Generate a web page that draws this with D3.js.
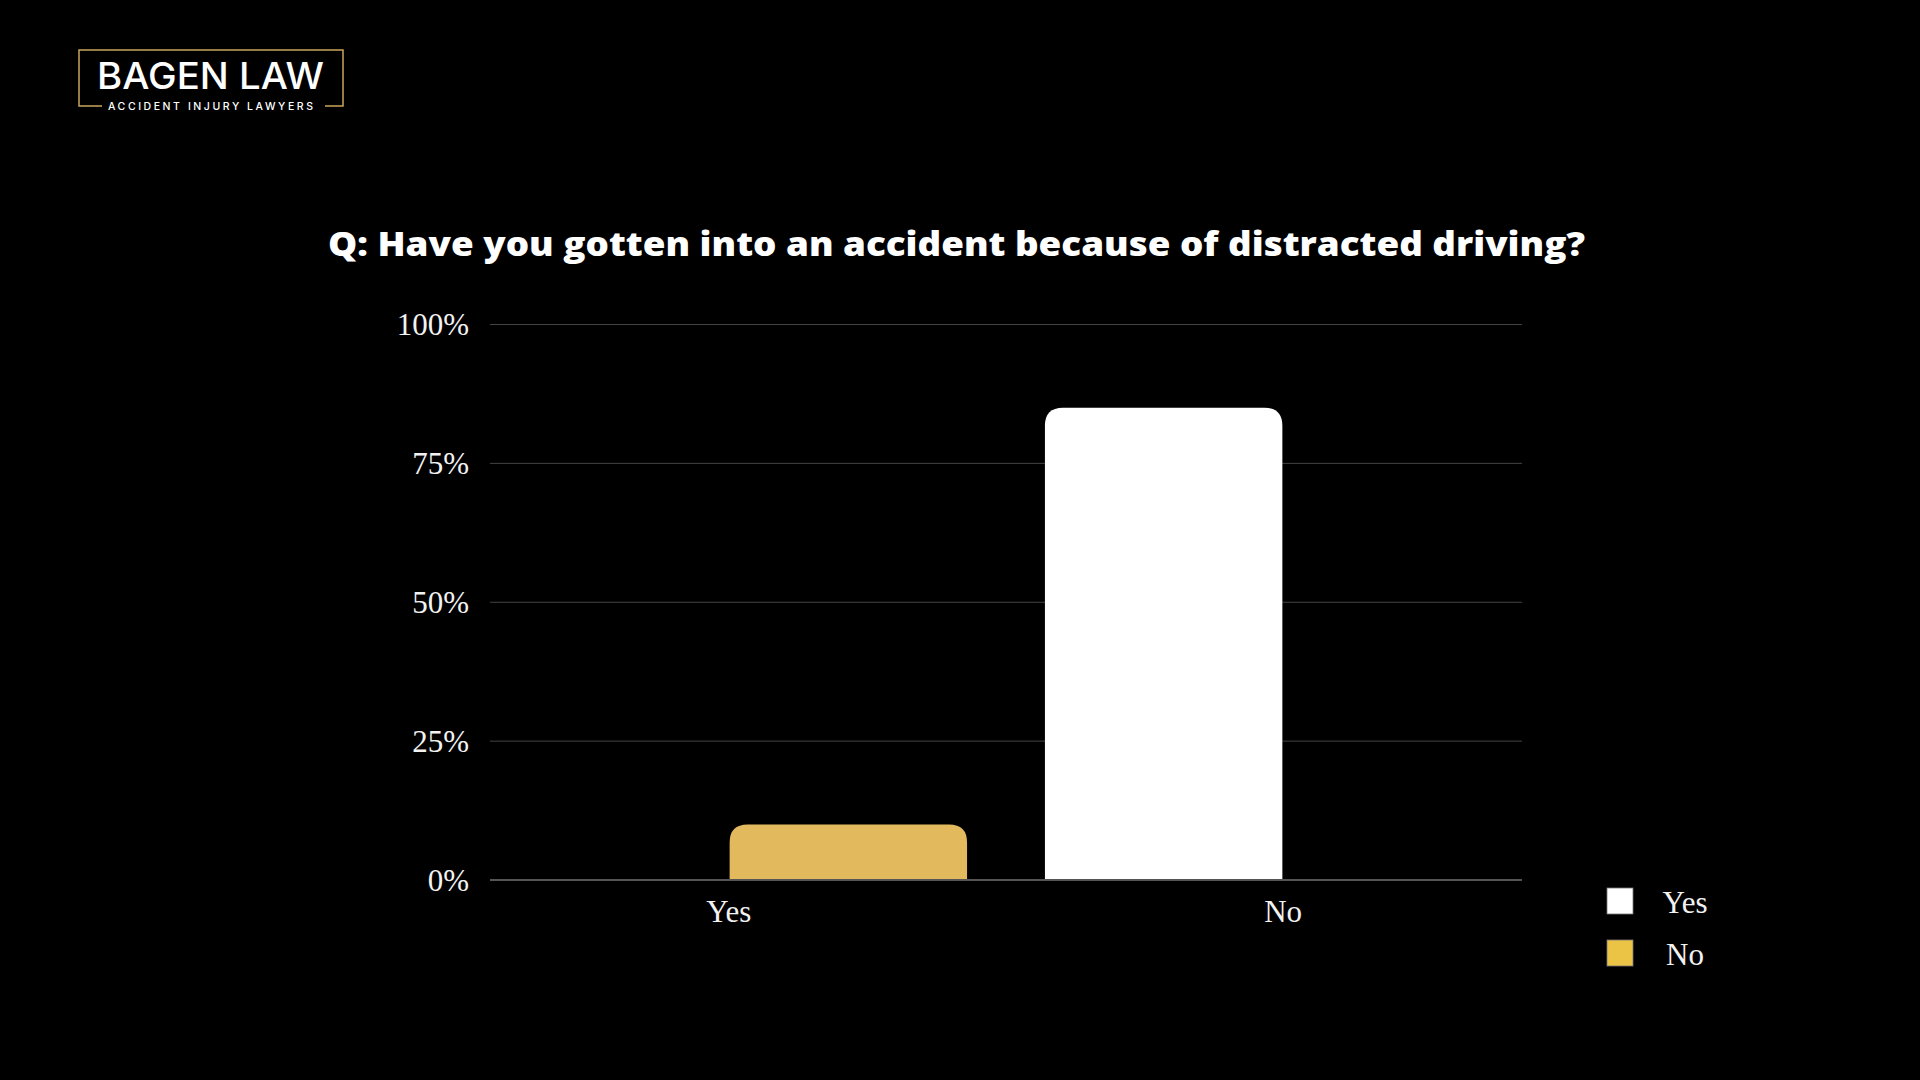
<!DOCTYPE html>
<html>
<head>
<meta charset="utf-8">
<script src="https://cdn.jsdelivr.net/npm/d3@7"></script>
<style>
  html, body { margin: 0; padding: 0; background: #000; }
  svg { display: block; }
</style>
</head>
<body>
<div id="chart"></div>
<script>
// data
const categories = ["Yes", "No"];
const values = [10, 85];
const yTicks = [0, 25, 50, 75, 100];
const legendLabels = ["Yes", "No"];
const title = "Q: Have you gotten into an accident because of distracted driving?";

const width = 1920, height = 1080;
const serif = "'Liberation Serif', 'DejaVu Serif', serif";

const svg = d3.select("#chart").append("svg")
    .attr("width", width)
    .attr("height", height);

svg.append("rect").attr("width", width).attr("height", height).attr("fill", "#000");

// logo
const logo = svg.append("g");
logo.append("path")
    .attr("d", "M102,106 H79 V50 H343 V106 H325")
    .attr("fill", "none")
    .attr("stroke", "#c9a55a")
    .attr("stroke-width", 1.5);
logo.append("text")
    .attr("x", 97).attr("y", 89)
    .attr("textLength", 227).attr("lengthAdjust", "spacingAndGlyphs")
    .style("font-family", "Inter, 'Open Sans', sans-serif")
    .style("font-size", "37px")
    .style("font-weight", 500)
    .attr("fill", "#fff")
    .text("BAGEN LAW");
logo.append("text")
    .attr("x", 108).attr("y", 109.5)
    .attr("textLength", 205).attr("lengthAdjust", "spacing")
    .style("font-family", "Inter, 'Open Sans', sans-serif")
    .style("font-size", "10.5px")
    .style("font-weight", 500)
    .attr("fill", "#fff")
    .text("ACCIDENT INJURY LAWYERS");

// title
svg.append("text")
    .attr("x", 328).attr("y", 256)
    .attr("textLength", 1257).attr("lengthAdjust", "spacingAndGlyphs")
    .style("font-family", "'Open Sans', sans-serif")
    .style("font-size", "34px")
    .style("font-weight", 800)
    .attr("fill", "#fff")
    .text(title);

// scales
const x0 = 490, x1 = 1522;
const y = d3.scaleLinear().domain([0, 100]).range([880, 324.5]);
const xBar = d3.scaleBand().domain(categories).range([x0, x1])
    .paddingInner(0.247).paddingOuter(0.76);
const xLabel = d3.scalePoint().domain(categories).range([x0, x1]).padding(0.431);
const barColor = d3.scaleOrdinal().domain(categories).range(["#e3b95e", "#ffffff"]);
const legendColor = d3.scaleOrdinal().domain(legendLabels).range(["#ffffff", "#ebc445"]);

// gridlines
svg.append("g").selectAll("line")
    .data(yTicks.filter(d => d > 0))
  .enter().append("line")
    .attr("x1", x0).attr("x2", x1)
    .attr("y1", d => y(d)).attr("y2", d => y(d))
    .attr("stroke", "#444")
    .attr("stroke-width", 1);

// y labels
svg.append("g").selectAll("text")
    .data(yTicks)
  .enter().append("text")
    .attr("x", 469)
    .attr("y", d => y(d))
    .attr("dy", "0.34em")
    .attr("text-anchor", "end")
    .style("font-family", serif)
    .style("font-size", "31px")
    .attr("fill", "#f2f2f2")
    .text(d => d + "%");

// bars with rounded top corners
function barPath(xl, w, yt, yb, r) {
  r = Math.min(r, (yb - yt), w / 2);
  return "M" + xl + "," + yb +
    "V" + (yt + r) +
    "Q" + xl + "," + yt + " " + (xl + r) + "," + yt +
    "H" + (xl + w - r) +
    "Q" + (xl + w) + "," + yt + " " + (xl + w) + "," + (yt + r) +
    "V" + yb + "Z";
}

svg.append("g").selectAll("path")
    .data(categories.map((c, i) => ({ c: c, v: values[i] })))
  .enter().append("path")
    .attr("d", d => barPath(xBar(d.c), xBar.bandwidth(), y(d.v), y(0), 18))
    .attr("fill", d => barColor(d.c));

// baseline
svg.append("line")
    .attr("x1", x0).attr("x2", x1)
    .attr("y1", y(0)).attr("y2", y(0))
    .attr("stroke", "#555")
    .attr("stroke-width", 2);

// x labels
svg.append("g").selectAll("text")
    .data(categories)
  .enter().append("text")
    .attr("x", d => xLabel(d))
    .attr("y", 922)
    .attr("text-anchor", "middle")
    .style("font-family", serif)
    .style("font-size", "31px")
    .attr("fill", "#f2f2f2")
    .text(d => d);

// legend
const legend = svg.append("g").selectAll("g")
    .data(legendLabels)
  .enter().append("g")
    .attr("transform", (d, i) => "translate(1607," + (888 + i * 52) + ")");
legend.append("rect")
    .attr("width", 26).attr("height", 26)
    .attr("fill", d => legendColor(d))
    .attr("stroke", "#777").attr("stroke-width", 0.8);
legend.append("text")
    .attr("x", 78).attr("y", 25)
    .attr("text-anchor", "middle")
    .style("font-family", serif)
    .style("font-size", "31px")
    .attr("fill", "#f2f2f2")
    .text(d => d);
</script>
</body>
</html>
